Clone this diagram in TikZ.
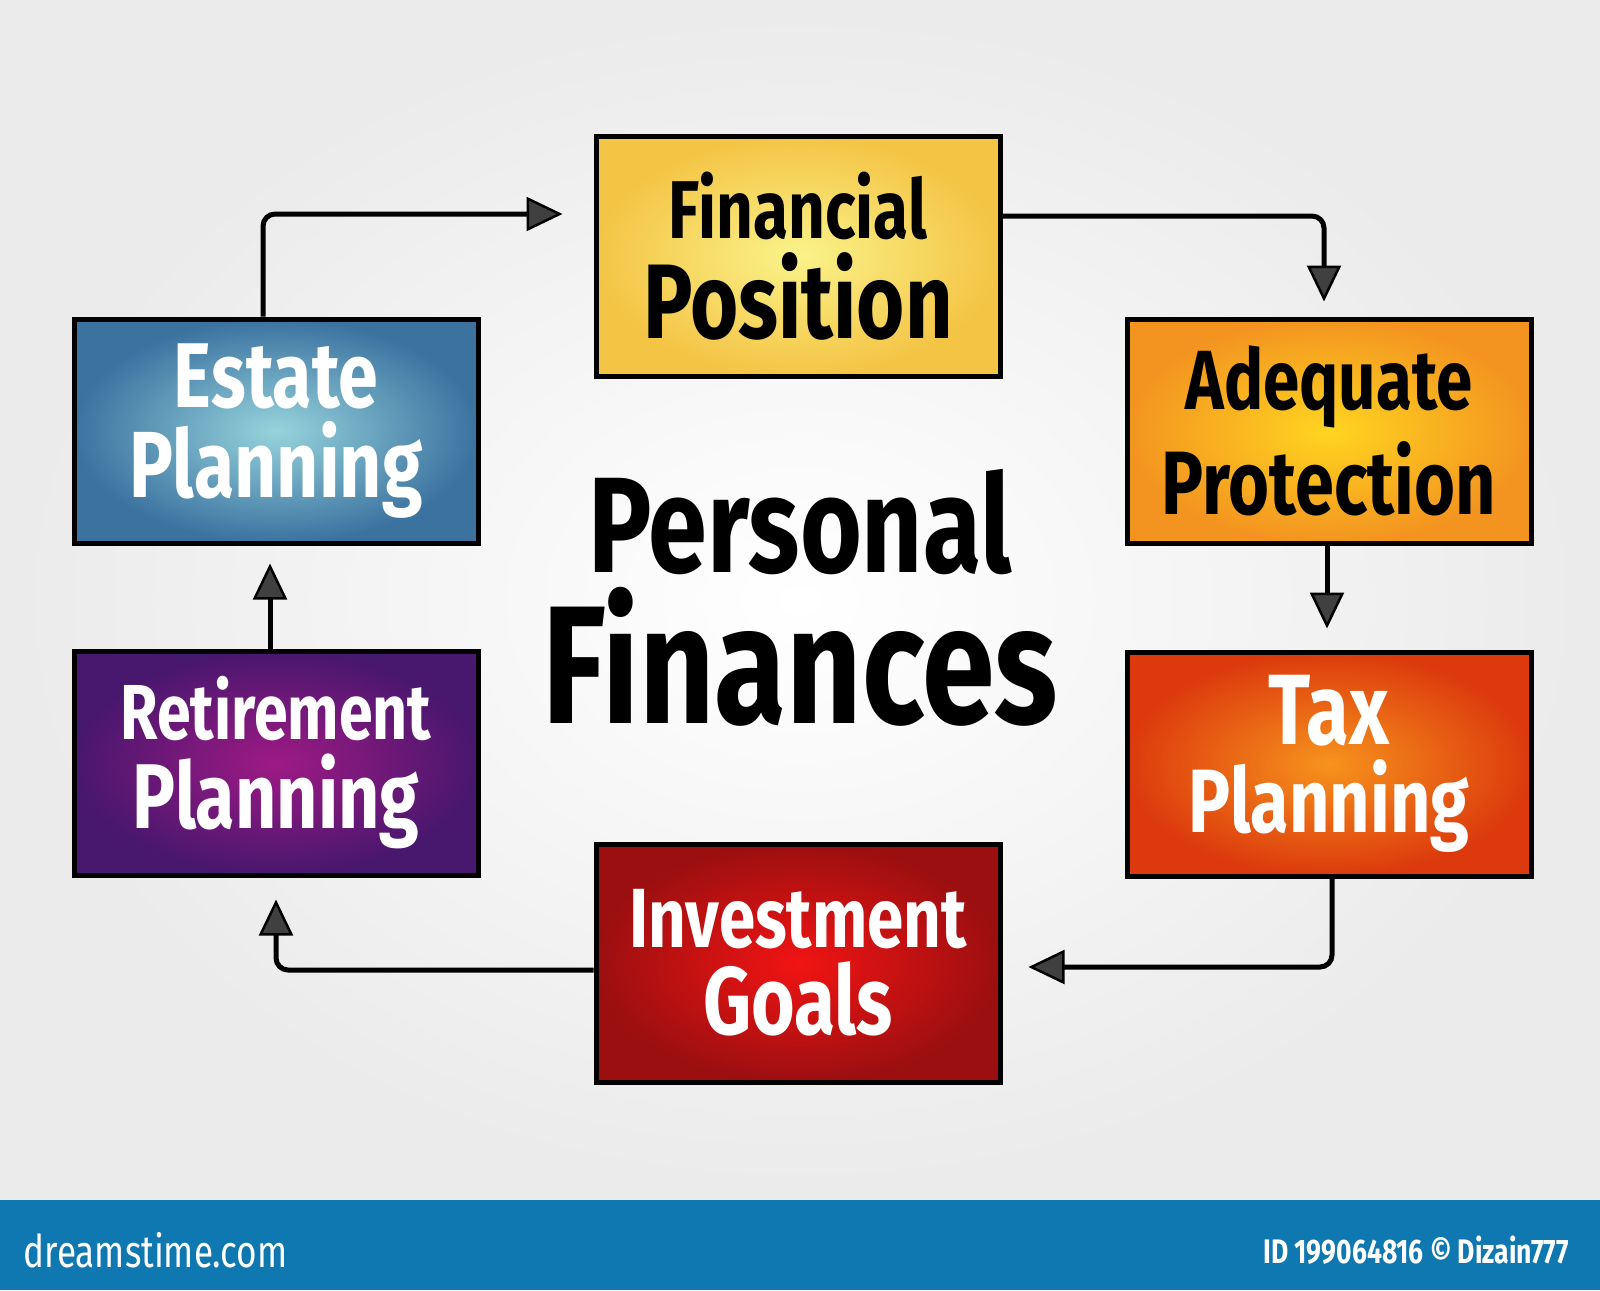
\documentclass[tikz,border=0pt]{standalone}
\usepackage{fontspec}
\setmainfont{Fira Sans}
\newfontfamily\handfont[FakeStretch=0.78]{Fira Sans}
\usetikzlibrary{positioning}
\usetikzlibrary{arrows.meta}

\definecolor{barblue}{HTML}{1078B0}
\definecolor{finin}{HTML}{FAF38A}
\definecolor{finout}{HTML}{F4C445}
\definecolor{adeqin}{HTML}{FFD520}
\definecolor{adeqout}{HTML}{F39420}
\definecolor{taxin}{HTML}{F7931D}
\definecolor{taxout}{HTML}{DC3A0D}
\definecolor{invin}{HTML}{F21414}
\definecolor{invout}{HTML}{9C0F10}
\definecolor{retin}{HTML}{9E1A85}
\definecolor{retout}{HTML}{48176E}
\definecolor{estin}{HTML}{97D3DC}
\definecolor{estout}{HTML}{3B72A0}

\newcommand{\linesize}[1]{\fontsize{#1}{#1}\selectfont}

\tikzset{
  planbox/.style={draw=black,line width=5pt,minimum width=404pt,minimum height=224pt,inner sep=0pt,align=center,font=\handfont\bfseries},
  flowline/.style={draw=black,line width=5pt,rounded corners=12pt,-{Triangle[length=36pt,width=34pt,line width=2.5pt,fill=black!75]}},
}

\begin{document}
\begin{tikzpicture}[x=1pt,y=-1pt]
\useasboundingbox (0,0) rectangle (1600,1290);
\shade[inner color=white,outer color=black!8] (0,0) rectangle (1600,1200);
\fill[barblue] (0,1200) rectangle (1600,1290);

\node[planbox,minimum height=240pt,inner color=finin,outer color=finout] (fin) at (798,256) {\linesize{82}Financial\\[12pt]\linesize{106}Position};
\node[planbox,inner color=adeqin,outer color=adeqout] (adeq) at (1329,431) {\linesize{84}Adequate\\[12pt]\linesize{90}Protection};
\node[planbox,text=white,inner color=taxin,outer color=taxout] (tax) at (1329,764) {\linesize{100}Tax\\[12pt]\linesize{90}Planning};
\node[planbox,minimum height=238pt,text=white,inner color=invin,outer color=invout] (inv) at (798,963) {\linesize{84}Investment\\[12pt]\linesize{96}Goals};
\node[planbox,text=white,inner color=retin,outer color=retout] (retire) at (276,763) {\linesize{78}Retirement\\[12pt]\linesize{92}Planning};
\node[planbox,text=white,inner color=estin,outer color=estout] (estate) at (276,431) {\linesize{92}Estate\\[12pt]\linesize{94}Planning};

\node[align=center,font=\handfont\bfseries] (title) at (800,598) {\linesize{136}Personal\\[12pt]\linesize{168}Finances};

\draw[flowline,shorten >=31pt] ([xshift=-13pt]estate.north) |- ([yshift=42pt]fin.west);
\draw[flowline,shorten >=15pt] ([yshift=40pt]fin.east) -| ([xshift=-5pt]adeq.north);
\draw[flowline,shorten >=21pt] ([xshift=-2pt]adeq.south) -- ([xshift=-2pt]tax.north);
\draw[flowline,shorten >=26pt] ([xshift=3pt]tax.south) |- ([yshift=-4pt]inv.east);
\draw[flowline,shorten >=22pt] ([yshift=-7pt]inv.west) -| (retire.south);
\draw[flowline,shorten >=18pt] ([xshift=-6pt]retire.north) -- ([xshift=-6pt]estate.south);

\node[anchor=west,text=white,font=\handfont] (logo) at (20,1250) {\linesize{45}dreamstime.com};
\node[anchor=east,text=white,font=\handfont\bfseries] (credit) at (1572,1250) {\linesize{34}ID 199064816 © Dizain777};
\end{tikzpicture}
\end{document}
